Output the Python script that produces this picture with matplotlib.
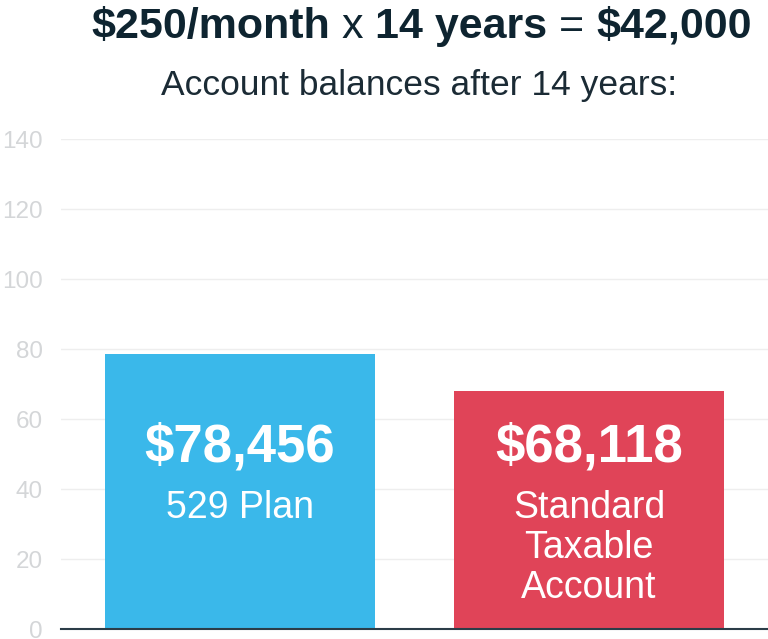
import matplotlib
matplotlib.use("Agg")
import matplotlib.pyplot as plt
from matplotlib.text import Annotation

# ---- data ----
categories = ["529 Plan", "Standard\nTaxable\nAccount"]
balances = [78.456, 68.118]          # thousands of dollars
value_labels = ["$78,456", "$68,118"]
bar_colors = ["#3AB8EA", "#E04458"]
yticks = [0, 20, 40, 60, 80, 100, 120, 140]
title_parts = [("$250/month", "bold"), (" x ", "normal"), ("14 years", "bold"),
               (" = ", "normal"), ("$42,000", "bold")]
subtitle = "Account balances after 14 years:"

W, H = 768, 639
fig = plt.figure(figsize=(W / 100, H / 100), dpi=100)
fig.patch.set_facecolor("white")
FONT = "Liberation Sans"
DARK = "#0e2430"

ax = fig.add_axes([61 / W, (H - 629) / H, (W - 61) / W, (629 - 139) / H])
x = list(range(len(categories)))
ax.bar(x, balances, width=0.774, color=bar_colors, zorder=2)
ax.set_xlim(-0.513, 1.513)
ax.set_ylim(0, 140)
ax.set_yticks(yticks)
ax.set_yticklabels([str(t) for t in yticks], fontsize=17.5, color="#d4d6d8",
                   family=FONT)
ax.tick_params(axis="y", length=0, pad=13)
ax.set_xticks([])
for s in ["top", "right", "left"]:
    ax.spines[s].set_visible(False)
ax.spines["bottom"].set_color("#2b3d48")
ax.spines["bottom"].set_linewidth(1.5)
ax.spines["bottom"].set_zorder(3)
ax.grid(axis="y", color="#eeeeee", linewidth=1, zorder=0)

for xi, v, name in zip(x, value_labels, categories):
    ax.text(xi, 48.0, v, ha="center", va="baseline", color="white",
            fontsize=38, fontweight="bold", family=FONT, zorder=3)
    ax.text(xi, 39.6, name, ha="center", va="top", color="white",
            fontsize=27, family=FONT, linespacing=1.13, zorder=3)

# title with mixed weights, chained left to right
prev = fig.text(91 / W, 1 - 38 / H, title_parts[0][0], fontsize=31,
                fontweight=title_parts[0][1], color=DARK, family=FONT,
                ha="left", va="baseline")
for txt, wt in title_parts[1:]:
    prev = fig.add_artist(Annotation(
        txt, xy=(1, 0), xycoords=prev, xytext=(0, 0),
        textcoords="offset points", fontsize=31, fontweight=wt,
        color=DARK, family=FONT, ha="left", va="bottom"))

fig.text(419 / W, 1 - 95 / H, subtitle, fontsize=25.5, color="#1b2b35",
         family=FONT, ha="center", va="baseline")

fig.savefig("out.png", dpi=100, facecolor="white")
